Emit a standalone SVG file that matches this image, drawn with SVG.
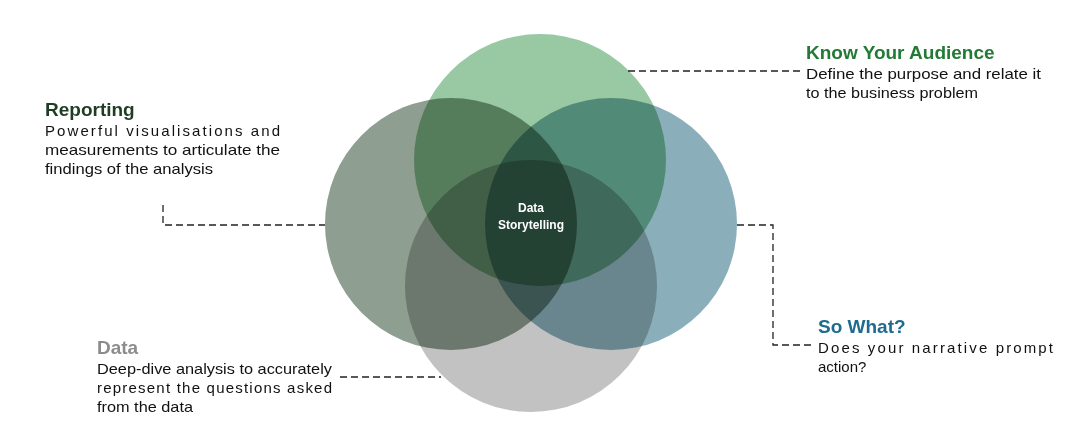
<svg xmlns="http://www.w3.org/2000/svg" width="1078" height="432" viewBox="0 0 1078 432">
<style>
text{font-family:"Liberation Sans",Arial,sans-serif}
.t{font-size:19px;font-weight:bold}
.b{font-size:15px;fill:#111}
.c{mix-blend-mode:multiply}
.d{fill:none;stroke:#222;stroke-width:1.3;stroke-dasharray:7 4}
</style>
<rect width="1078" height="432" fill="#fff"/>
<g id="nodes" style="isolation:isolate">
<g id="audience-circle"><circle class="c" cx="540" cy="160" r="126" fill="#98c9a3"/></g>
<g id="reporting-circle"><circle class="c" cx="451" cy="224" r="126" fill="#8e9e90"/></g>
<g id="sowhat-circle"><circle class="c" cx="611" cy="224" r="126" fill="#8aafbb"/></g>
<g id="data-circle"><circle class="c" cx="531" cy="286" r="126" fill="#c2c2c2"/></g>
<g id="center"><text x="531" y="212" text-anchor="middle" font-size="12" font-weight="bold" fill="#fff">Data</text><text x="531" y="229" text-anchor="middle" font-size="12" font-weight="bold" fill="#fff">Storytelling</text></g>
</g>
<g id="labels">
<g id="know"><text class="t" x="806" y="59" fill="#237a35">Know Your Audience</text>
<text class="b" x="806" y="79" textLength="235" lengthAdjust="spacingAndGlyphs">Define the purpose and relate it</text>
<text class="b" x="806" y="98" textLength="172" lengthAdjust="spacingAndGlyphs">to the business problem</text></g>
<g id="reporting"><text class="t" x="45" y="116" fill="#1e3d23">Reporting</text>
<text class="b" x="45" y="136" textLength="235" lengthAdjust="spacing">Powerful visualisations and</text>
<text class="b" x="45" y="155" textLength="235" lengthAdjust="spacingAndGlyphs">measurements to articulate the</text>
<text class="b" x="45" y="174" textLength="168" lengthAdjust="spacingAndGlyphs">findings of the analysis</text></g>
<g id="sowhat"><text class="t" x="818" y="333" fill="#1e6b8f">So What?</text>
<text class="b" x="818" y="353" textLength="235" lengthAdjust="spacing">Does your narrative prompt</text>
<text class="b" x="818" y="372">action?</text></g>
<g id="data"><text class="t" x="97" y="354" fill="#8c8c8c">Data</text>
<text class="b" x="97" y="374" textLength="235" lengthAdjust="spacingAndGlyphs">Deep-dive analysis to accurately</text>
<text class="b" x="97" y="393" textLength="235" lengthAdjust="spacing">represent the questions asked</text>
<text class="b" x="97" y="412" textLength="96" lengthAdjust="spacingAndGlyphs">from the data</text></g>
</g>
<g id="connectors">
<path class="d" d="M628 71H800"/>
<path class="d" d="M163 205V225H325"/>
<path class="d" d="M737 225H773V345H812"/>
<path class="d" d="M340 377H441"/>
</g>
</svg>
